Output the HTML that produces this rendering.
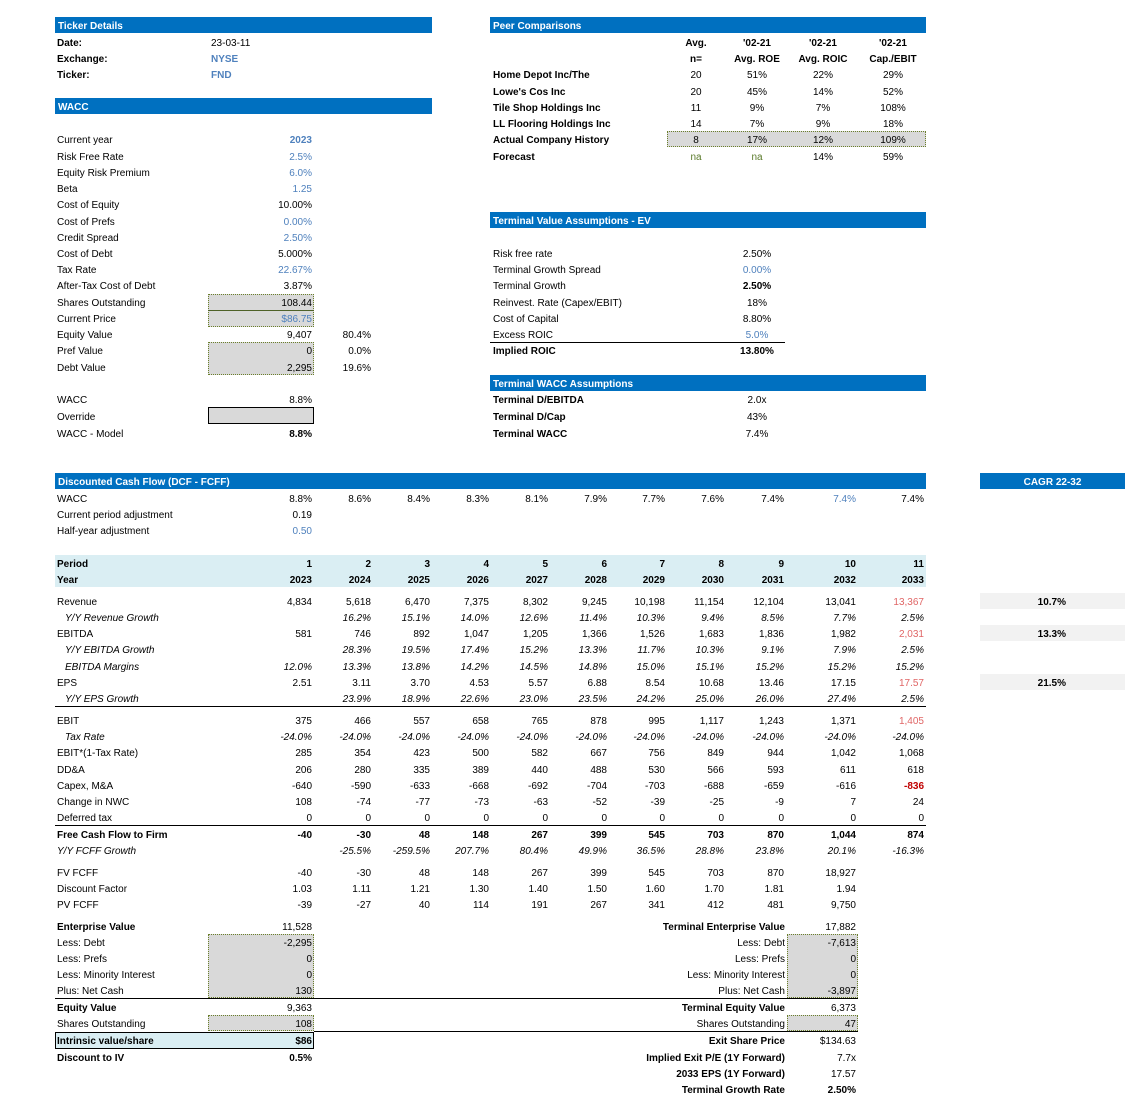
<!DOCTYPE html>
<html><head><meta charset="utf-8"><style>
body{margin:0;width:1125px;height:1098px;background:#fff;position:relative;overflow:hidden;font-family:"Liberation Sans",sans-serif;font-size:10px;color:#000}
.a{position:absolute;white-space:nowrap;line-height:14px}
.r{position:absolute;left:0;width:1125px;height:14px;margin-top:2px}
.r span{position:absolute;white-space:nowrap;line-height:14px;top:0}
.hb{position:absolute;background:#0070C0;color:#fff;height:16px;line-height:19px;padding-left:3px;box-sizing:border-box;font-weight:bold;font-size:10px}
.b{font-weight:bold}.i{font-style:italic}.bl{color:#4F81BD}.rd{color:#E06666}.dr{color:#C00000;font-weight:bold}.gn{color:#5A7A2A}
.L{left:57px}.TL{left:493px}
.c1{right:813px}.c2{right:754px}.c3{right:695px}.c4{right:636px}.c5{right:577px}.c6{right:518px}.c7{right:460px}.c8{right:401px}.c9{right:341px}.c10{right:269px}.c11{right:201px}.pc{right:755px}.cg{right:59px}
.ct{text-align:center;width:60px}
.p1{left:666px}.p2{left:727px}.p3{left:793px}.p4{left:863px}.tv{left:727px}
.gbox{position:absolute;background:#D9D9D9;border:1px dotted #6B7F2B;box-sizing:border-box}
.hl{position:absolute;height:1px;background:#000}
</style></head><body>
<div class="hb" style="left:55px;top:17px;width:377px">Ticker Details</div>
<div class="hb" style="left:55px;top:98px;width:377px">WACC</div>
<div class="hb" style="left:490px;top:17px;width:436px">Peer Comparisons</div>
<div class="hb" style="left:490px;top:212px;width:436px">Terminal Value Assumptions - EV</div>
<div class="hb" style="left:490px;top:375px;width:436px">Terminal WACC Assumptions</div>
<div class="hb" style="left:55px;top:473px;width:871px">Discounted Cash Flow (DCF - FCFF)</div>
<div class="hb" style="left:980px;top:473px;width:145px;text-align:center;padding:0">CAGR 22-32</div>
<div style="position:absolute;left:55px;top:555px;width:871px;height:32px;background:#DAEEF3"></div>
<div style="position:absolute;left:980px;top:593px;width:145px;height:16px;background:#F2F2F2"></div>
<div style="position:absolute;left:980px;top:625px;width:145px;height:16px;background:#F2F2F2"></div>
<div style="position:absolute;left:980px;top:674px;width:145px;height:16px;background:#F2F2F2"></div>
<div class="gbox" style="left:208px;top:294px;width:106px;height:33px"></div>
<div class="hl" style="left:208px;top:310px;width:106px;background:#4F6228"></div>
<div class="gbox" style="left:208px;top:342px;width:106px;height:33px"></div>
<div class="gbox" style="left:208px;top:407px;width:106px;height:17px;border:1px solid #000"></div>
<div class="gbox" style="left:667px;top:131px;width:259px;height:16px"></div>
<div class="gbox" style="left:208px;top:934px;width:106px;height:64px"></div>
<div class="gbox" style="left:208px;top:1015px;width:106px;height:16px"></div>
<div class="gbox" style="left:787px;top:934px;width:71px;height:64px"></div>
<div class="gbox" style="left:787px;top:1015px;width:71px;height:16px"></div>
<div style="position:absolute;left:55px;top:1032px;width:259px;height:17px;background:#DAEEF3;border:1px solid #000;box-sizing:border-box"></div>
<div class="hl" style="left:490px;top:342px;width:295px"></div>
<div class="hl" style="left:55px;top:706px;width:871px"></div>
<div class="hl" style="left:55px;top:825px;width:871px"></div>
<div class="hl" style="left:55px;top:998px;width:803px"></div>
<div class="hl" style="left:314px;top:1031px;width:544px"></div>

<div class="r" style="top:35px"><span class="L b">Date:</span><span style="left:211px">23-03-11</span><span class="p1 ct b">Avg.</span><span class="p2 ct b">'02-21</span><span class="p3 ct b">'02-21</span><span class="p4 ct b">'02-21</span></div>
<div class="r" style="top:51px"><span class="L b">Exchange:</span><span class="bl b" style="left:211px">NYSE</span><span class="p1 ct b">n=</span><span class="p2 ct b">Avg. ROE</span><span class="p3 ct b">Avg. ROIC</span><span class="p4 ct b">Cap./EBIT</span></div>
<div class="r" style="top:67px"><span class="L b">Ticker:</span><span class="bl b" style="left:211px">FND</span><span class="TL b">Home Depot Inc/The</span><span class="p1 ct">20</span><span class="p2 ct">51%</span><span class="p3 ct">22%</span><span class="p4 ct">29%</span></div>
<div class="r" style="top:84px"><span class="TL b">Lowe's Cos Inc</span><span class="p1 ct">20</span><span class="p2 ct">45%</span><span class="p3 ct">14%</span><span class="p4 ct">52%</span></div>
<div class="r" style="top:100px"><span class="TL b">Tile Shop Holdings Inc</span><span class="p1 ct">11</span><span class="p2 ct">9%</span><span class="p3 ct">7%</span><span class="p4 ct">108%</span></div>
<div class="r" style="top:116px"><span class="TL b">LL Flooring Holdings Inc</span><span class="p1 ct">14</span><span class="p2 ct">7%</span><span class="p3 ct">9%</span><span class="p4 ct">18%</span></div>
<div class="r" style="top:132px"><span class="L">Current year</span><span class="c1 bl b">2023</span><span class="TL b">Actual Company History</span><span class="p1 ct">8</span><span class="p2 ct">17%</span><span class="p3 ct">12%</span><span class="p4 ct">109%</span></div>
<div class="r" style="top:149px"><span class="L">Risk Free Rate</span><span class="c1 bl">2.5%</span><span class="TL b">Forecast</span><span class="p1 ct gn">na</span><span class="p2 ct gn">na</span><span class="p3 ct">14%</span><span class="p4 ct">59%</span></div>
<div class="r" style="top:165px"><span class="L">Equity Risk Premium</span><span class="c1 bl">6.0%</span></div>
<div class="r" style="top:181px"><span class="L">Beta</span><span class="c1 bl">1.25</span></div>
<div class="r" style="top:197px"><span class="L">Cost of Equity</span><span class="c1">10.00%</span></div>
<div class="r" style="top:214px"><span class="L">Cost of Prefs</span><span class="c1 bl">0.00%</span></div>
<div class="r" style="top:230px"><span class="L">Credit Spread</span><span class="c1 bl">2.50%</span></div>
<div class="r" style="top:246px"><span class="L">Cost of Debt</span><span class="c1">5.000%</span><span class="TL">Risk free rate</span><span class="tv ct">2.50%</span></div>
<div class="r" style="top:262px"><span class="L">Tax Rate</span><span class="c1 bl">22.67%</span><span class="TL">Terminal Growth Spread</span><span class="tv ct bl">0.00%</span></div>
<div class="r" style="top:278px"><span class="L">After-Tax Cost of Debt</span><span class="c1">3.87%</span><span class="TL">Terminal Growth</span><span class="tv ct b">2.50%</span></div>
<div class="r" style="top:295px"><span class="L">Shares Outstanding</span><span class="c1">108.44</span><span class="TL">Reinvest. Rate (Capex/EBIT)</span><span class="tv ct">18%</span></div>
<div class="r" style="top:311px"><span class="L">Current Price</span><span class="c1 bl">$86.75</span><span class="TL">Cost of Capital</span><span class="tv ct">8.80%</span></div>
<div class="r" style="top:327px"><span class="L">Equity Value</span><span class="c1">9,407</span><span class="c2">80.4%</span><span class="TL">Excess ROIC</span><span class="tv ct bl">5.0%</span></div>
<div class="r" style="top:343px"><span class="L">Pref Value</span><span class="c1">0</span><span class="c2">0.0%</span><span class="TL b">Implied ROIC</span><span class="tv ct b">13.80%</span></div>
<div class="r" style="top:360px"><span class="L">Debt Value</span><span class="c1">2,295</span><span class="c2">19.6%</span></div>
<div class="r" style="top:392px"><span class="L">WACC</span><span class="c1">8.8%</span><span class="TL b">Terminal D/EBITDA</span><span class="tv ct">2.0x</span></div>
<div class="r" style="top:409px"><span class="L">Override</span><span class="TL b">Terminal D/Cap</span><span class="tv ct">43%</span></div>
<div class="r" style="top:426px"><span class="L">WACC - Model</span><span class="c1 b">8.8%</span><span class="TL b">Terminal WACC</span><span class="tv ct">7.4%</span></div>

<div class="r" style="top:491px"><span class="L">WACC</span><span class="c1">8.8%</span><span class="c2">8.6%</span><span class="c3">8.4%</span><span class="c4">8.3%</span><span class="c5">8.1%</span><span class="c6">7.9%</span><span class="c7">7.7%</span><span class="c8">7.6%</span><span class="c9">7.4%</span><span class="c10 bl">7.4%</span><span class="c11">7.4%</span></div>
<div class="r" style="top:507px"><span class="L">Current period adjustment</span><span class="c1">0.19</span></div>
<div class="r" style="top:523px"><span class="L">Half-year adjustment</span><span class="c1 bl">0.50</span></div>
<div class="r b" style="top:556px"><span class="L">Period</span><span class="c1">1</span><span class="c2">2</span><span class="c3">3</span><span class="c4">4</span><span class="c5">5</span><span class="c6">6</span><span class="c7">7</span><span class="c8">8</span><span class="c9">9</span><span class="c10">10</span><span class="c11">11</span></div>
<div class="r b" style="top:572px"><span class="L">Year</span><span class="c1">2023</span><span class="c2">2024</span><span class="c3">2025</span><span class="c4">2026</span><span class="c5">2027</span><span class="c6">2028</span><span class="c7">2029</span><span class="c8">2030</span><span class="c9">2031</span><span class="c10">2032</span><span class="c11">2033</span></div>
<div class="r" style="top:594px"><span class="L">Revenue</span><span class="c1">4,834</span><span class="c2">5,618</span><span class="c3">6,470</span><span class="c4">7,375</span><span class="c5">8,302</span><span class="c6">9,245</span><span class="c7">10,198</span><span class="c8">11,154</span><span class="c9">12,104</span><span class="c10">13,041</span><span class="c11 rd">13,367</span><span class="cg b">10.7%</span></div>
<div class="r i" style="top:610px"><span style="left:65px">Y/Y Revenue Growth</span><span class="c2">16.2%</span><span class="c3">15.1%</span><span class="c4">14.0%</span><span class="c5">12.6%</span><span class="c6">11.4%</span><span class="c7">10.3%</span><span class="c8">9.4%</span><span class="c9">8.5%</span><span class="c10">7.7%</span><span class="c11">2.5%</span></div>
<div class="r" style="top:626px"><span class="L">EBITDA</span><span class="c1">581</span><span class="c2">746</span><span class="c3">892</span><span class="c4">1,047</span><span class="c5">1,205</span><span class="c6">1,366</span><span class="c7">1,526</span><span class="c8">1,683</span><span class="c9">1,836</span><span class="c10">1,982</span><span class="c11 rd">2,031</span><span class="cg b">13.3%</span></div>
<div class="r i" style="top:642px"><span style="left:65px">Y/Y EBITDA Growth</span><span class="c2">28.3%</span><span class="c3">19.5%</span><span class="c4">17.4%</span><span class="c5">15.2%</span><span class="c6">13.3%</span><span class="c7">11.7%</span><span class="c8">10.3%</span><span class="c9">9.1%</span><span class="c10">7.9%</span><span class="c11">2.5%</span></div>
<div class="r i" style="top:659px"><span style="left:65px">EBITDA Margins</span><span class="c1">12.0%</span><span class="c2">13.3%</span><span class="c3">13.8%</span><span class="c4">14.2%</span><span class="c5">14.5%</span><span class="c6">14.8%</span><span class="c7">15.0%</span><span class="c8">15.1%</span><span class="c9">15.2%</span><span class="c10">15.2%</span><span class="c11">15.2%</span></div>
<div class="r" style="top:675px"><span class="L">EPS</span><span class="c1">2.51</span><span class="c2">3.11</span><span class="c3">3.70</span><span class="c4">4.53</span><span class="c5">5.57</span><span class="c6">6.88</span><span class="c7">8.54</span><span class="c8">10.68</span><span class="c9">13.46</span><span class="c10">17.15</span><span class="c11 rd">17.57</span><span class="cg b">21.5%</span></div>
<div class="r i" style="top:691px"><span style="left:65px">Y/Y EPS Growth</span><span class="c2">23.9%</span><span class="c3">18.9%</span><span class="c4">22.6%</span><span class="c5">23.0%</span><span class="c6">23.5%</span><span class="c7">24.2%</span><span class="c8">25.0%</span><span class="c9">26.0%</span><span class="c10">27.4%</span><span class="c11">2.5%</span></div>
<div class="r" style="top:713px"><span class="L">EBIT</span><span class="c1">375</span><span class="c2">466</span><span class="c3">557</span><span class="c4">658</span><span class="c5">765</span><span class="c6">878</span><span class="c7">995</span><span class="c8">1,117</span><span class="c9">1,243</span><span class="c10">1,371</span><span class="c11 rd">1,405</span></div>
<div class="r i" style="top:729px"><span style="left:65px">Tax Rate</span><span class="c1">-24.0%</span><span class="c2">-24.0%</span><span class="c3">-24.0%</span><span class="c4">-24.0%</span><span class="c5">-24.0%</span><span class="c6">-24.0%</span><span class="c7">-24.0%</span><span class="c8">-24.0%</span><span class="c9">-24.0%</span><span class="c10">-24.0%</span><span class="c11">-24.0%</span></div>
<div class="r" style="top:745px"><span class="L">EBIT*(1-Tax Rate)</span><span class="c1">285</span><span class="c2">354</span><span class="c3">423</span><span class="c4">500</span><span class="c5">582</span><span class="c6">667</span><span class="c7">756</span><span class="c8">849</span><span class="c9">944</span><span class="c10">1,042</span><span class="c11">1,068</span></div>
<div class="r" style="top:762px"><span class="L">DD&amp;A</span><span class="c1">206</span><span class="c2">280</span><span class="c3">335</span><span class="c4">389</span><span class="c5">440</span><span class="c6">488</span><span class="c7">530</span><span class="c8">566</span><span class="c9">593</span><span class="c10">611</span><span class="c11">618</span></div>
<div class="r" style="top:778px"><span class="L">Capex, M&amp;A</span><span class="c1">-640</span><span class="c2">-590</span><span class="c3">-633</span><span class="c4">-668</span><span class="c5">-692</span><span class="c6">-704</span><span class="c7">-703</span><span class="c8">-688</span><span class="c9">-659</span><span class="c10">-616</span><span class="c11 dr">-836</span></div>
<div class="r" style="top:794px"><span class="L">Change in NWC</span><span class="c1">108</span><span class="c2">-74</span><span class="c3">-77</span><span class="c4">-73</span><span class="c5">-63</span><span class="c6">-52</span><span class="c7">-39</span><span class="c8">-25</span><span class="c9">-9</span><span class="c10">7</span><span class="c11">24</span></div>
<div class="r" style="top:810px"><span class="L">Deferred tax</span><span class="c1">0</span><span class="c2">0</span><span class="c3">0</span><span class="c4">0</span><span class="c5">0</span><span class="c6">0</span><span class="c7">0</span><span class="c8">0</span><span class="c9">0</span><span class="c10">0</span><span class="c11">0</span></div>
<div class="r b" style="top:827px"><span class="L">Free Cash Flow to Firm</span><span class="c1">-40</span><span class="c2">-30</span><span class="c3">48</span><span class="c4">148</span><span class="c5">267</span><span class="c6">399</span><span class="c7">545</span><span class="c8">703</span><span class="c9">870</span><span class="c10">1,044</span><span class="c11">874</span></div>
<div class="r i" style="top:843px"><span class="L">Y/Y FCFF Growth</span><span class="c2">-25.5%</span><span class="c3">-259.5%</span><span class="c4">207.7%</span><span class="c5">80.4%</span><span class="c6">49.9%</span><span class="c7">36.5%</span><span class="c8">28.8%</span><span class="c9">23.8%</span><span class="c10">20.1%</span><span class="c11">-16.3%</span></div>
<div class="r" style="top:865px"><span class="L">FV FCFF</span><span class="c1">-40</span><span class="c2">-30</span><span class="c3">48</span><span class="c4">148</span><span class="c5">267</span><span class="c6">399</span><span class="c7">545</span><span class="c8">703</span><span class="c9">870</span><span class="c10">18,927</span></div>
<div class="r" style="top:881px"><span class="L">Discount Factor</span><span class="c1">1.03</span><span class="c2">1.11</span><span class="c3">1.21</span><span class="c4">1.30</span><span class="c5">1.40</span><span class="c6">1.50</span><span class="c7">1.60</span><span class="c8">1.70</span><span class="c9">1.81</span><span class="c10">1.94</span></div>
<div class="r" style="top:897px"><span class="L">PV FCFF</span><span class="c1">-39</span><span class="c2">-27</span><span class="c3">40</span><span class="c4">114</span><span class="c5">191</span><span class="c6">267</span><span class="c7">341</span><span class="c8">412</span><span class="c9">481</span><span class="c10">9,750</span></div>
<div class="r" style="top:919px"><span class="L b">Enterprise Value</span><span class="c1">11,528</span><span class="b" style="right:340px">Terminal Enterprise Value</span><span class="c10">17,882</span></div>
<div class="r" style="top:935px"><span class="L">Less: Debt</span><span class="c1">-2,295</span><span style="right:340px">Less: Debt</span><span class="c10">-7,613</span></div>
<div class="r" style="top:951px"><span class="L">Less: Prefs</span><span class="c1">0</span><span style="right:340px">Less: Prefs</span><span class="c10">0</span></div>
<div class="r" style="top:967px"><span class="L">Less: Minority Interest</span><span class="c1">0</span><span style="right:340px">Less: Minority Interest</span><span class="c10">0</span></div>
<div class="r" style="top:983px"><span class="L">Plus: Net Cash</span><span class="c1">130</span><span style="right:340px">Plus: Net Cash</span><span class="c10">-3,897</span></div>
<div class="r" style="top:1000px"><span class="L b">Equity Value</span><span class="c1">9,363</span><span class="b" style="right:340px">Terminal Equity Value</span><span class="c10">6,373</span></div>
<div class="r" style="top:1016px"><span class="L">Shares Outstanding</span><span class="c1">108</span><span style="right:340px">Shares Outstanding</span><span class="c10">47</span></div>
<div class="r b" style="top:1033px"><span class="L">Intrinsic value/share</span><span class="c1">$86</span><span style="right:340px">Exit Share Price</span><span class="c10" style="font-weight:normal">$134.63</span></div>
<div class="r" style="top:1050px"><span class="L b">Discount to IV</span><span class="c1 b">0.5%</span><span class="b" style="right:340px">Implied Exit P/E (1Y Forward)</span><span class="c10">7.7x</span></div>
<div class="r" style="top:1066px"><span class="b" style="right:340px">2033 EPS (1Y Forward)</span><span class="c10">17.57</span></div>
<div class="r" style="top:1082px"><span class="b" style="right:340px">Terminal Growth Rate</span><span class="c10 b">2.50%</span></div>
</body></html>
